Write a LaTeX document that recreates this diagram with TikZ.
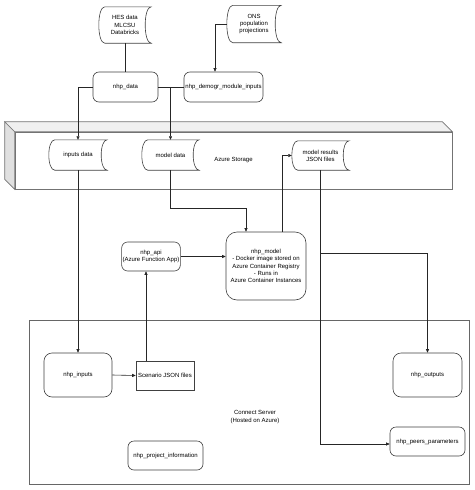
\documentclass[tikz,border=0pt]{standalone}
\usepackage{fontspec}
\setmainfont{Liberation Sans}
\usetikzlibrary{arrows.meta}

% outline of a "stored data" node: bulging left side, hollow right side
\newcommand{\storeshape}[1]{%
  \draw[outline] ([xshift=6pt]#1.north west) -- (#1.north east)
    .. controls ([xshift=-8pt]#1.north east) and ([xshift=-8pt]#1.south east) .. (#1.south east)
    -- ([xshift=6pt]#1.south west)
    .. controls ([xshift=-2pt]#1.south west) and ([xshift=-2pt]#1.north west) .. ([xshift=6pt]#1.north west);}

\begin{document}
\begin{tikzpicture}[x=1pt, y=-1pt,
  every node/.style={font=\fontsize{6}{7.2}\selectfont, align=center, inner sep=1pt},
  box/.style={draw=black!75, fill=white, rounded corners=6pt, line width=0.6pt},
  plainbox/.style={draw=black!75, fill=white, line width=0.6pt},
  store/.style={inner sep=0pt, minimum height=30pt},
  outline/.style={draw=black!75, line width=0.6pt},
  face/.style={draw=black!55, line width=0.6pt},
  link/.style={draw=black!85, line width=0.6pt},
  arr/.style={link, -{Triangle[length=3.5pt, width=3pt]}}]
  \useasboundingbox (0,0) rectangle (474,490);

  % Sources
  \node[store, minimum width=52pt, minimum height=36pt] (hes) at (125,25) {HES data\\MLCSU\\Databricks};
  \node[store, minimum width=54pt, minimum height=37pt] (ons) at (254,24) {ONS\\population\\projections};
  \storeshape{hes}
  \storeshape{ons}

  \node[box, minimum width=65pt, minimum height=30pt] (data) at (125.5,87) {nhp\_data};
  \node[box, minimum width=79pt, minimum height=30pt] (demogr) at (223.5,87) {nhp\_demogr\_module\_inputs};

  % Azure Storage (cube)
  \node[face, fill=white, minimum width=437pt, minimum height=57pt, inner sep=0pt] (storage) at (233.5,160.5) {Azure Storage};
  \filldraw[face, fill=black!12] (storage.north west) -- ++(-10,-10) -- ([xshift=-10pt, yshift=10pt]storage.south west) -- (storage.south west) -- cycle;
  \filldraw[face, fill=black!6] (storage.north west) -- ++(-10,-10) -- ([xshift=-10pt, yshift=10pt]storage.north east) -- (storage.north east) -- cycle;

  \node[store, minimum width=58pt] (inputsdata) at (78,155) {inputs data};
  \node[store, minimum width=57pt] (modeldata) at (170.5,155) {model data};
  \node[store, minimum width=57pt, minimum height=29pt] (results) at (320.5,155.5) {model results\\JSON files};
  \storeshape{inputsdata}
  \storeshape{modeldata}
  \storeshape{results}

  % Compute
  \node[box, minimum width=58pt, minimum height=29pt] (api) at (151,256.5) {nhp\_api\\(Azure Function App)};
  \node[box, rounded corners=11pt, minimum width=80pt, minimum height=68pt] (model) at (266,266)
    {nhp\_model\\- Docker image stored on\\Azure Container Registry\\- Runs in\\Azure Container Instances};

  % Connect Server
  \node[draw=black!60, line width=0.6pt, minimum width=440pt, minimum height=164pt, inner sep=0pt] (server) at (249,402) {};
  \node (serverlbl) at (255,417) {Connect Server\\(Hosted on Azure)};
  \node[box, rounded corners=8pt, minimum width=68pt, minimum height=44pt] (inputs) at (78,375) {nhp\_inputs};
  \node[plainbox, minimum width=58pt, minimum height=29pt] (scen) at (165,375.5) {Scenario JSON files};
  \node[box, rounded corners=8pt, minimum width=69pt, minimum height=44pt] (outputs) at (427.5,375) {nhp\_outputs};
  \node[box, minimum width=75pt, minimum height=29pt] (peers) at (427.5,441.5) {nhp\_peers\_parameters};
  \node[box, minimum width=75pt, minimum height=29pt] (projinfo) at (165.5,455.5) {nhp\_project\_information};

  % Connectors
  \draw[link] (hes.south -| data.north) -- (data.north);
  \draw[arr] (ons.west) -| ([xshift=-8.5pt]demogr.north);
  \draw[link] (data.east) -- (demogr.west);
  \draw[arr] (data.west) -| (inputsdata.north);
  \draw[arr] (data.east -| modeldata.north) -- (modeldata.north);
  \draw[arr] (modeldata.south) -- ++(0,38) -| ([xshift=-20pt]model.north);
  \draw[arr] ([xshift=16pt]model.north) |- (results.west);
  \draw[arr] (results.south) -- ++(0,83) -| (outputs.north);
  \draw[arr] (results.south) |- ([yshift=-2.5pt]peers.west);
  \draw[arr] (api.east) -- (api.east -| model.west);
  \draw[arr] ([xshift=-19pt]scen.north) -- ([xshift=-5pt]api.south);
  \draw[arr] (inputsdata.south) -- (inputs.north);
  \draw[arr] (inputs.east) -- (scen.west);
\end{tikzpicture}
\end{document}
